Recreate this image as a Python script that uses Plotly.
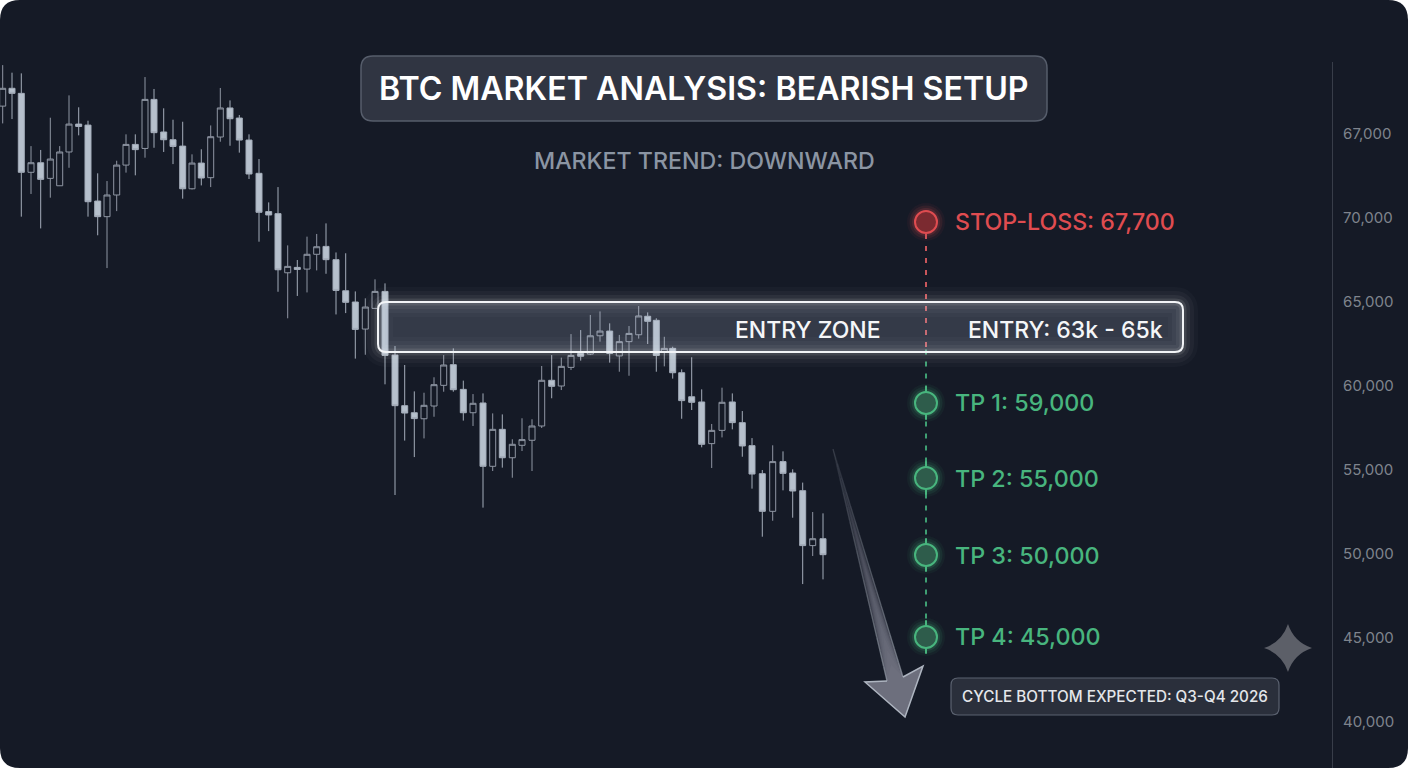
import plotly.graph_objects as go

# Candles (x axis is an unlabeled session position)
sessions = [2.7, 12, 21.3, 31, 40.7, 50.3, 59.7, 69, 78.7, 88, 97.7, 107, 116.7, 126, 135.3, 145, 154, 163.7, 173, 182.7,
            192, 201.3, 210.7, 220.3, 230, 239.3, 249, 259, 268.7, 278, 287.7, 297.3, 307, 316.7, 326, 336, 345.7, 355.3,
            365.3, 375, 385, 395, 404.7, 414.3, 424, 434, 443.7, 453.3, 463.3, 473, 483, 492.7, 502.3, 512.3, 522, 532,
            541.7, 551.7, 561.3, 571, 580.7, 590.3, 600, 609.7, 619.3, 629, 638.7, 647.7, 656.3, 664.3, 672.7, 681.7,
            691.7, 701.7, 711.7, 722, 732.3, 742.3, 752, 762.3, 772.7, 783, 792.7, 802.7, 812.7, 823]
opens = [76660, 77720, 77420, 72720, 73290, 72360, 71920, 73930, 75590, 75530, 71010, 70080, 71370, 73150, 74380, 74140,
         77060, 75120, 74660, 74280, 71740, 73270, 72400, 74820, 76550, 75950, 74640, 72660, 70380, 70260, 66740, 67060,
         66960, 67840, 68310, 67520, 65670, 65000, 63390, 64620, 65630, 61840, 58830, 58410, 58050, 58810, 60040, 61270,
         59800, 58410, 58990, 55220, 57420, 55730, 56470, 56770, 57620, 60340, 60000, 61110, 61940, 61900, 62990, 63270,
         61790, 62640, 63050, 64150, 63910, 62040, 62240, 60790, 59360, 59050, 56570, 57360, 59050, 57820, 56450, 54780,
         52540, 55500, 54820, 53770, 50500, 50910]
highs = [79100, 78650, 78610, 74280, 74050, 75970, 74280, 77300, 76590, 75790, 72660, 72200, 73410, 74980, 74980, 78390,
         77680, 76530, 75850, 75730, 73790, 74090, 75510, 77740, 77000, 76130, 74980, 73510, 70930, 71840, 68370, 67500,
         68890, 69050, 69680, 67950, 67900, 65630, 65220, 66350, 66110, 62380, 61250, 59680, 59600, 60520, 61840, 62240,
         60320, 59520, 59560, 58370, 58310, 56830, 58080, 58020, 61190, 61840, 61690, 63090, 63330, 64230, 64440, 63730,
         63040, 63570, 64760, 64380, 64030, 62930, 62340, 60990, 61710, 59800, 57740, 59900, 59560, 58510, 56900, 55000,
         56470, 56110, 55040, 54250, 52500, 52420]
lows = [75630, 75890, 70080, 71430, 69380, 71210, 71920, 72990, 74920, 70080, 68970, 67020, 70410, 72700, 72540, 73590,
        74180, 73930, 73210, 71150, 71700, 71940, 71840, 74540, 74300, 73890, 72320, 68590, 69220, 65610, 64030, 65360,
        65570, 66880, 66680, 64260, 64340, 61630, 61860, 64620, 60100, 53510, 56750, 55770, 56880, 58170, 59660, 59660,
        57940, 57620, 52760, 54940, 55140, 54540, 56130, 54940, 57500, 59270, 59760, 60950, 61510, 61840, 62640, 61390,
        60850, 60610, 62820, 62500, 60850, 61170, 60440, 58050, 58570, 56350, 55120, 56940, 57420, 55790, 53890, 51030,
        51980, 53790, 52160, 48210, 49880, 48490]
closes = [77720, 77420, 72720, 73290, 72300, 73510, 73930, 75590, 75450, 70970, 70080, 71370, 73150, 74380, 74070, 77060,
          75080, 74660, 74260, 71740, 73270, 72380, 74840, 76550, 75910, 74640, 72620, 70340, 70180, 66920, 67120, 66940,
          67840, 68290, 67520, 65690, 64980, 63370, 64700, 65630, 61820, 58830, 58390, 58060, 58850, 60080, 61250, 59780,
          58410, 58970, 55220, 57420, 55730, 56530, 56810, 57620, 60340, 59980, 61170, 61820, 61770, 62990, 63270, 61940,
          62640, 63130, 64170, 63850, 61820, 62240, 60790, 59130, 59030, 56530, 57360, 59030, 57820, 56430, 54760, 52540,
          55500, 54800, 53750, 50500, 50910, 49960]

# Price axis, labels exactly as printed (the top one breaks the order)
tick_vals = [40000, 45000, 50000, 55000, 60000, 65000, 70000, 75000]
tick_text = ["40,000", "45,000", "50,000", "55,000", "60,000", "65,000", "70,000", "67,000"]

level_x = 926
stop_y = 69760
stop_label = "STOP-LOSS: 67,700"
tp_y = [58990, 54520, 49940, 45060]
tp_labels = ["TP 1: 59,000", "TP 2: 55,000", "TP 3: 50,000", "TP 4: 45,000"]
split_y = 62170

BG = "#151a26"
RED = "#df4c50"
GREEN = "#48b57e"
W, H = 1408, 768


def px(x, y):
    return f"{x / W:.5f},{1 - y / H:.5f}"


def round_rect(x0, y0, x1, y1, r):
    return (f"M {px(x0 + r, y0)} L {px(x1 - r, y0)} Q {px(x1, y0)} {px(x1, y0 + r)} "
            f"L {px(x1, y1 - r)} Q {px(x1, y1)} {px(x1 - r, y1)} L {px(x0 + r, y1)} "
            f"Q {px(x0, y1)} {px(x0, y1 - r)} L {px(x0, y0 + r)} Q {px(x0, y0)} {px(x0 + r, y0)} Z")


def poly(points):
    return "M " + " L ".join(px(x, y) for x, y in points) + " Z"


def box(path, fill="rgba(0,0,0,0)", line="rgba(0,0,0,0)", width=0, layer="above"):
    return dict(type="path", path=path, xref="paper", yref="paper", fillcolor=fill,
                line=dict(color=line, width=width), layer=layer)


def label(text, x, y, size, color, weight=500, xref="paper", yref="paper", anchor="center", xshift=0):
    return dict(text=text, x=x, y=y, xref=xref, yref=yref, xanchor=anchor, yanchor="middle", xshift=xshift,
                showarrow=False, font=dict(family="Inter", size=size, color=color, weight=weight))


fig = go.Figure()

fig.add_trace(go.Candlestick(
    x=sessions, open=opens, high=highs, low=lows, close=closes,
    increasing=dict(line=dict(color="#8f96a3", width=1), fillcolor=BG),
    decreasing=dict(line=dict(color="#a4adba", width=1), fillcolor="#b6c0cc"),
    whiskerwidth=0, showlegend=False, hoverinfo="skip",
))

# Dashed levels, red down to the zone then green
fig.add_trace(go.Scatter(x=[level_x, level_x], y=[stop_y, split_y], mode="lines", showlegend=False,
                         line=dict(color="#c9565b", width=2, dash="5px 7px")))
fig.add_trace(go.Scatter(x=[level_x, level_x], y=[split_y, tp_y[-1]], mode="lines", showlegend=False,
                         line=dict(color="#3f9f73", width=2, dash="5px 7px")))

# Marker glow, solid stub through the green markers, then the marker
for size, alpha in [(38, 0.06), (33, 0.10), (28, 0.16)]:
    fig.add_trace(go.Scatter(x=[level_x], y=[stop_y], mode="markers", showlegend=False,
                             marker=dict(size=size, color=f"rgba(223,76,80,{alpha})")))
    fig.add_trace(go.Scatter(x=[level_x] * len(tp_y), y=tp_y, mode="markers", showlegend=False,
                             marker=dict(size=size, color=f"rgba(72,181,126,{alpha})")))
fig.add_trace(go.Scatter(x=[level_x] * len(tp_y), y=tp_y, mode="markers", showlegend=False,
                         marker=dict(size=24, symbol="line-ns", line=dict(color=GREEN, width=2))))
fig.add_trace(go.Scatter(x=[level_x], y=[stop_y], mode="markers", showlegend=False,
                         marker=dict(size=22, color="#7b2a30", line=dict(color=RED, width=2))))
fig.add_trace(go.Scatter(x=[level_x] * len(tp_y), y=tp_y, mode="markers", showlegend=False,
                         marker=dict(size=22, color="#2e5c4b", line=dict(color=GREEN, width=2))))

shapes = [box("M 0,0 L 1,0 L 1,1 L 0,1 Z", fill="#ffffff", layer="below"),
          box(round_rect(0, 0, W, H, 20), fill=BG, layer="below")]

# Title plate
shapes.append(box(round_rect(361, 56, 1047, 121, 12), fill="rgba(190,200,220,0.16)",
                  line="#565d6b", width=1.5))

# Entry zone with stacked strokes for the glow
zone = round_rect(378, 302, 1183, 352, 8)
for width, alpha in [(30, 0.025), (22, 0.035), (14, 0.05), (7, 0.10)]:
    shapes.append(box(zone, line=f"rgba(255,255,255,{alpha})", width=width))
shapes.append(box(zone, fill="rgba(195,205,225,0.18)", line="#f2f4f7", width=2))

# Projection arrow, faded toward the tail by stacking
tail = (833, 449)
neck_r = (903, 677)
neck_l = (887, 681)
head = [neck_r, (923, 666), (905, 717), (865, 682), neck_l]
steps = 16
for k in range(steps):
    t = k / steps
    tx, ty = tail[0] + (895 - tail[0]) * t, tail[1] + (679 - tail[1]) * t
    shapes.append(box(poly([(tx, ty)] + head), fill="rgba(150,158,172,0.07)"))
    # edges get brighter toward the head too
    for end in (neck_r, neck_l):
        a = (tail[0] + (end[0] - tail[0]) * t, tail[1] + (end[1] - tail[1]) * t)
        b = (tail[0] + (end[0] - tail[0]) * (t + 1 / steps), tail[1] + (end[1] - tail[1]) * (t + 1 / steps))
        shapes.append(box(f"M {px(*a)} L {px(*b)}", line=f"rgba(174,181,192,{0.12 + 0.5 * t:.2f})", width=1.3))
shapes.append(box("M " + " L ".join(px(x, y) for x, y in head), line="#aeb5c0", width=1.5))

# Note pill
shapes.append(box(round_rect(951, 678, 1279, 715, 7), fill="#2a2f3b", line="#5b6270", width=1.2))

# Four point star, bottom right
shapes.append(box(f"M {px(1288, 624)} Q {px(1294, 642)} {px(1312, 648)} Q {px(1294, 654)} {px(1288, 672)} "
                  f"Q {px(1282, 654)} {px(1264, 648)} Q {px(1282, 642)} {px(1288, 624)} Z", fill="#5c5f68"))

annotations = [
    label("BTC MARKET ANALYSIS: BEARISH SETUP", 704 / W, 1 - 88.5 / H, 32.2, "#ffffff", 600),
    label("MARKET TREND: DOWNWARD", 704 / W, 1 - 161 / H, 23.2, "#8b95a3", 500),
    label("ENTRY ZONE", 807.5 / W, 1 - 330 / H, 23, "#f5f6f8", 500),
    label("ENTRY: 63k - 65k", 1065.5 / W, 1 - 330 / H, 23, "#f5f6f8", 500),
    label("CYCLE BOTTOM EXPECTED: Q3-Q4 2026", 1115 / W, 1 - 696.5 / H, 15.25, "#e4e6ea", 500),
    label(stop_label, level_x, stop_y, 23.2, RED, 500, "x", "y", "left", 27),
]
for y, text in zip(tp_y, tp_labels):
    annotations.append(label(text, level_x, y, 23.3, GREEN, 500, "x", "y", "left", 27))

fig.update_layout(
    width=W, height=H,
    margin=dict(l=0, r=0, t=0, b=0),
    paper_bgcolor="#ffffff",
    plot_bgcolor="rgba(0,0,0,0)",
    font=dict(family="Inter"),
    boxgap=0.25, boxgroupgap=0,
    xaxis=dict(domain=[0, 1332 / W], range=[0, 1332], visible=False, rangeslider=dict(visible=False)),
    yaxis=dict(domain=[0, 706 / H], range=[37262, 79286], side="right", showgrid=False, zeroline=False,
               tickvals=tick_vals, ticktext=tick_text, ticks="outside", ticklen=7, tickcolor="rgba(0,0,0,0)",
               tickfont=dict(family="Inter", size=15, color="#7f848d"), showline=True, linecolor="#383d49",
               linewidth=1.2),
    shapes=shapes,
    annotations=annotations,
    hovermode=False,
)

fig.write_html("out.html", config=dict(displayModeBar=False),
               post_script="document.body.style.margin='0';")
